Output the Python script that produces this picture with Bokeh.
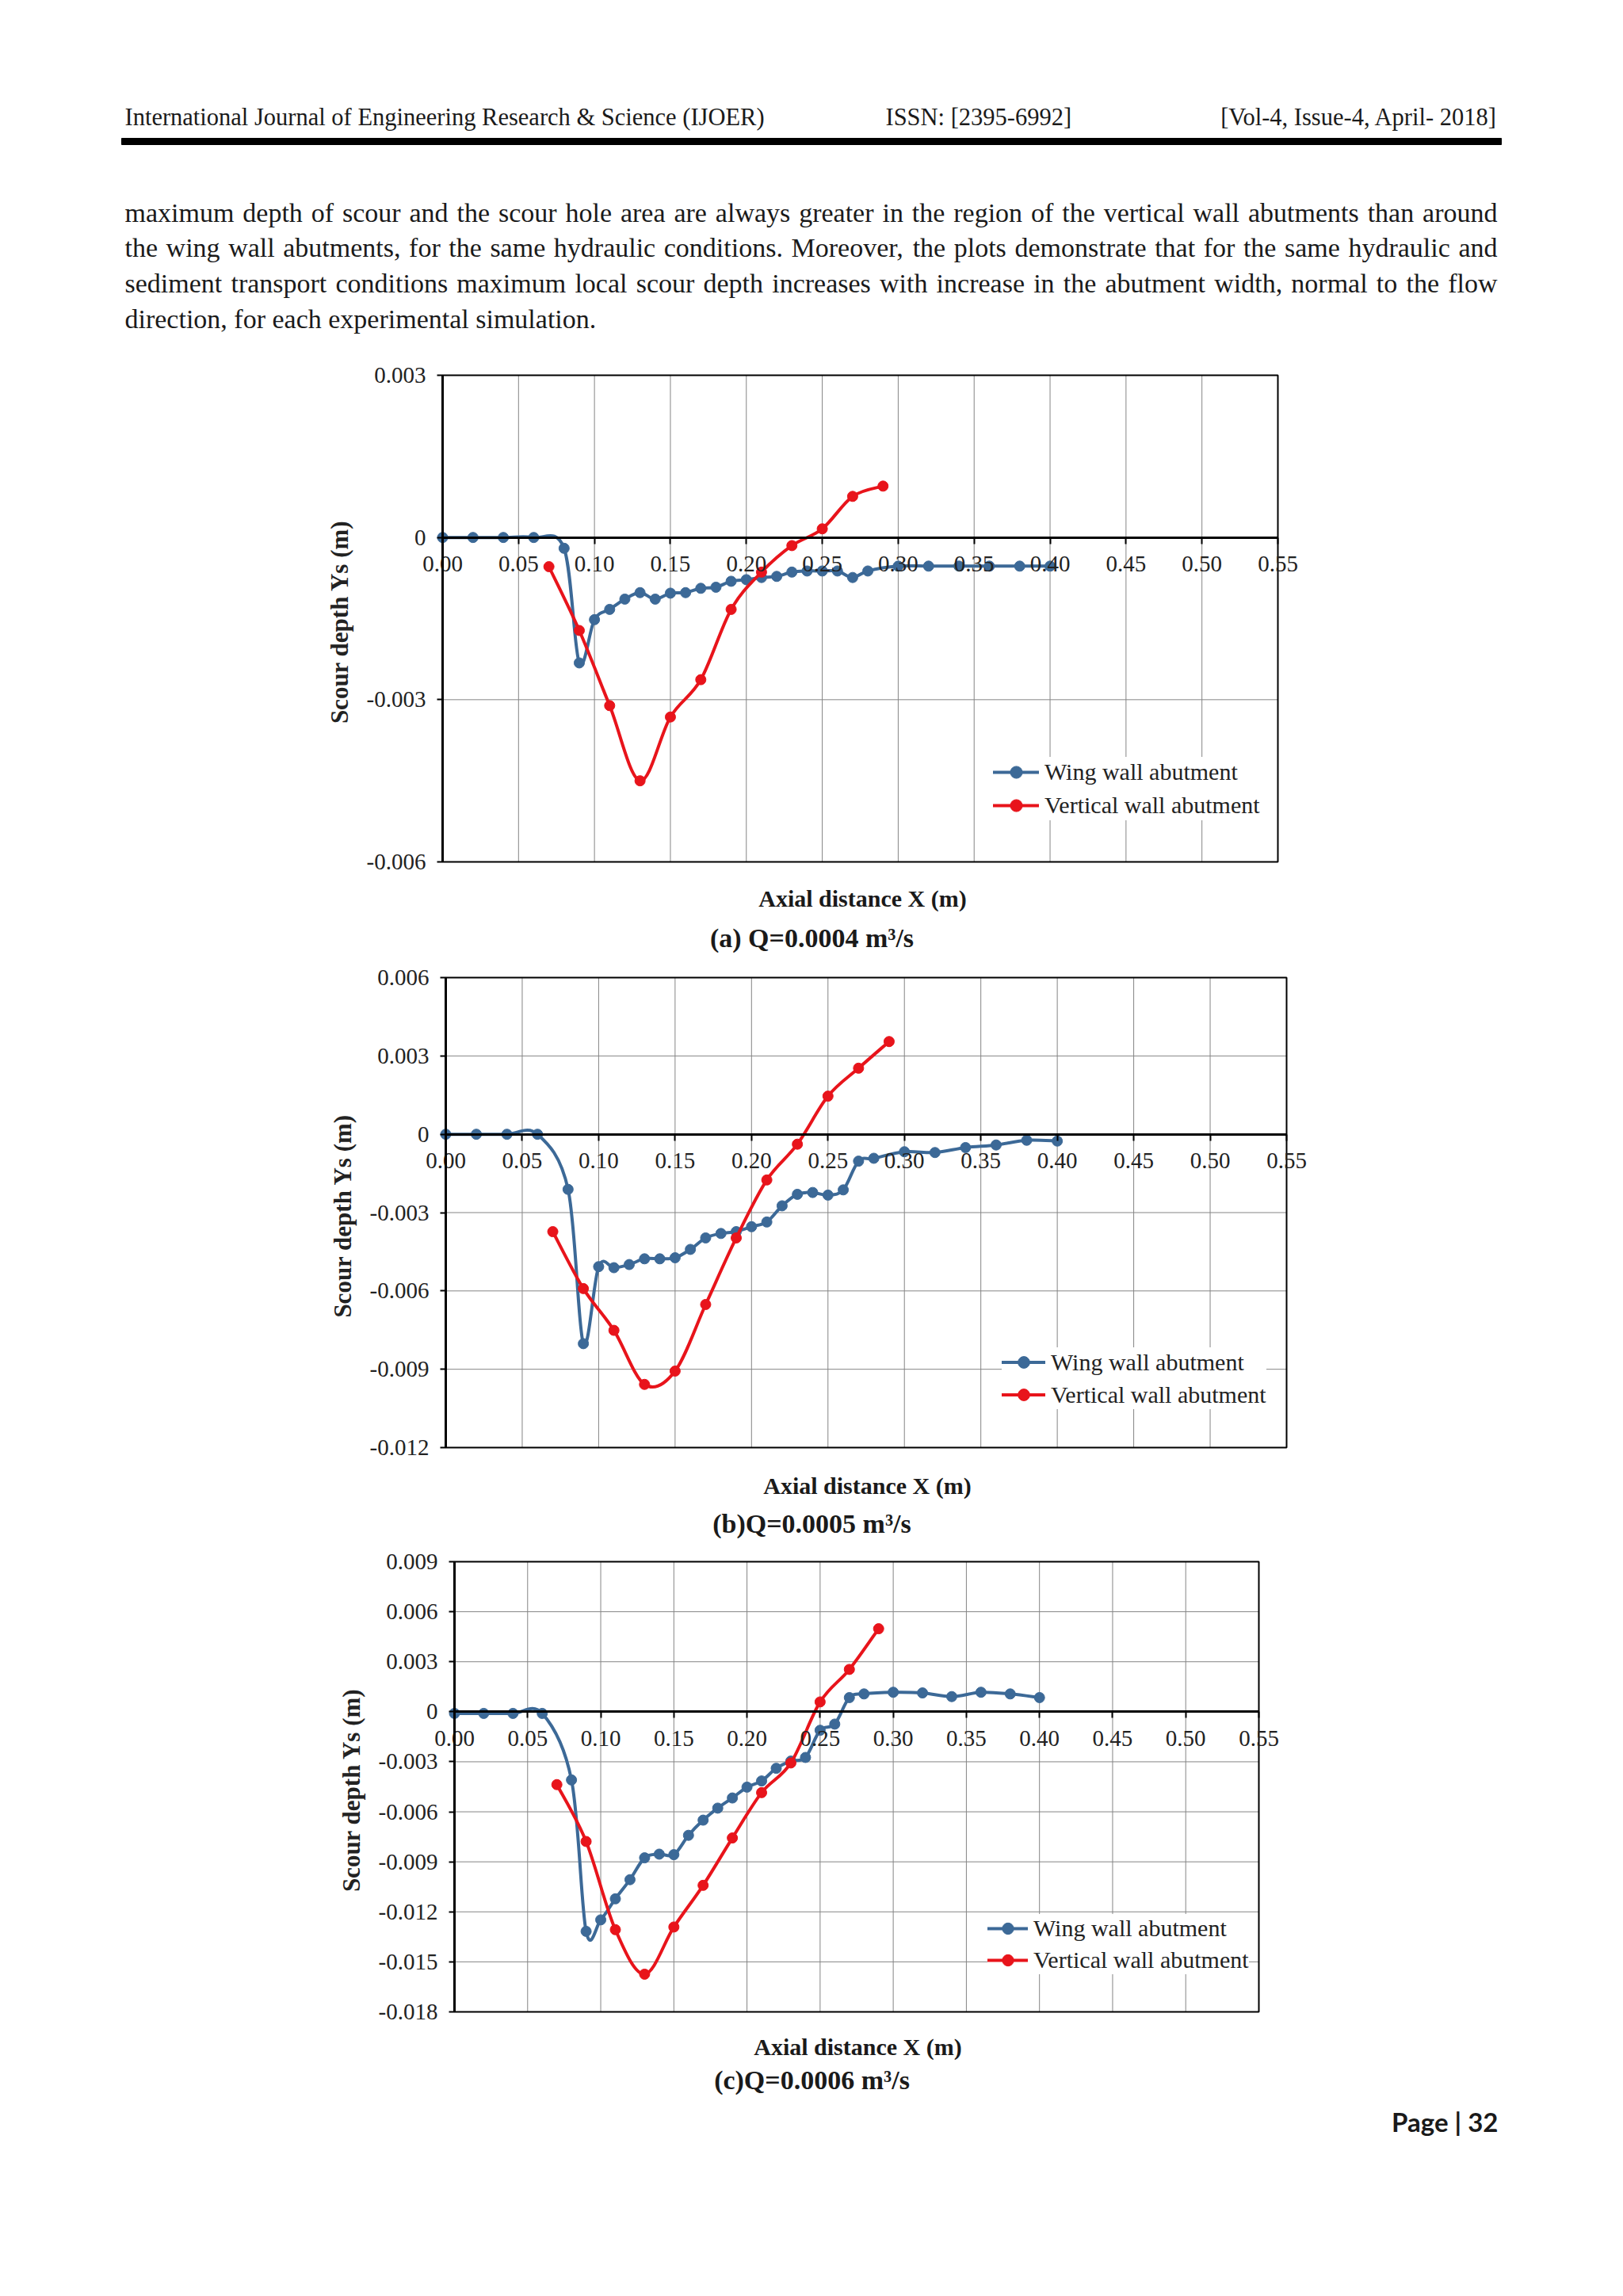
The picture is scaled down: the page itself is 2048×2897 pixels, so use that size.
from bokeh.plotting import figure
from bokeh.models import Range1d, FixedTicker, CustomJSTickFormatter, Legend, LegendItem
from bokeh.core.properties import value
from bokeh.embed import file_html
from bokeh.resources import INLINE

# ---------------- data ----------------
X_TICKS = [0.00, 0.05, 0.10, 0.15, 0.20, 0.25, 0.30, 0.35, 0.40, 0.45, 0.50, 0.55]

WING_X = [0.00, 0.02, 0.04, 0.06, 0.08, 0.09, 0.10, 0.11, 0.12, 0.13, 0.14, 0.15, 0.16,
          0.17, 0.18, 0.19, 0.20, 0.21, 0.22, 0.23, 0.24, 0.25, 0.26, 0.27, 0.28,
          0.30, 0.32, 0.34, 0.36, 0.38, 0.40]
VERT_X = [0.07, 0.09, 0.11, 0.13, 0.15, 0.17, 0.19, 0.21, 0.23, 0.25, 0.27, 0.29]

# (a) Q = 0.0004 m3/s
WING_A = [0.0, 0.0, 0.0, 0.0, -0.0002, -0.00232, -0.00152, -0.00133, -0.00114, -0.00102,
          -0.00114, -0.00103, -0.00102, -0.00094, -0.00092, -0.00081, -0.00078, -0.00074,
          -0.00072, -0.00064, -0.00062, -0.00062, -0.00062, -0.00074, -0.00062,
          -0.00053, -0.00053, -0.00053, -0.00053, -0.00053, -0.00053]
VERT_A = [-0.00054, -0.00172, -0.00311, -0.0045, -0.00332, -0.00263, -0.00133, -0.00064,
          -0.00015, 0.00016, 0.00076, 0.00095]
Y_TICKS_A = [-0.006, -0.003, 0.0, 0.003]

# (b) Q = 0.0005 m3/s
WING_B = [0.0, 0.0, 0.0, 0.0, -0.00211, -0.00802, -0.00507, -0.00511, -0.00499, -0.00477,
          -0.00477, -0.00473, -0.00441, -0.00397, -0.0038, -0.00373, -0.00354, -0.00336,
          -0.00274, -0.0023, -0.00223, -0.00233, -0.00213, -0.00103, -0.00092,
          -0.00067, -0.0007, -0.00051, -0.00041, -0.00023, -0.00026]
VERT_B = [-0.00373, -0.00591, -0.00751, -0.00958, -0.00907, -0.00652, -0.00397, -0.00175,
          -0.00038, 0.00146, 0.00253, 0.00355]
Y_TICKS_B = [-0.012, -0.009, -0.006, -0.003, 0.0, 0.003, 0.006]

# (c) Q = 0.0006 m3/s
WING_C = [-0.0001, -0.0001, -0.0001, -0.0001, -0.00409, -0.01317, -0.01248, -0.01122, -0.01007,
          -0.00876, -0.00854, -0.00857, -0.00741, -0.0065, -0.00578, -0.00517, -0.00452,
          -0.00415, -0.00339, -0.00296, -0.00274, -0.00111, -0.00074, 0.00085, 0.00107,
          0.00117, 0.00113, 0.00091, 0.00117, 0.00107, 0.00085]
VERT_C = [-0.00437, -0.00778, -0.01307, -0.01574, -0.01291, -0.01041, -0.00757, -0.00485,
          -0.00307, 0.00059, 0.00254, 0.00498]
Y_TICKS_C = [-0.018, -0.015, -0.012, -0.009, -0.006, -0.003, 0.0, 0.003, 0.006, 0.009]

SERIES_NAMES = ["Wing wall abutment", "Vertical wall abutment"]
CAPTIONS = ["(a) Q=0.0004 m\u00b3/s", "(b)Q=0.0005 m\u00b3/s", "(c)Q=0.0006 m\u00b3/s"]
X_LABEL = "Axial distance X (m)"
Y_LABEL = "Scour depth  Ys (m)"

HEADER = ["International Journal of Engineering Research & Science (IJOER)",
          "ISSN: [2395-6992]", "[Vol-4, Issue-4, April- 2018]"]
PARAGRAPH = [
    "maximum depth of scour and the scour hole area are always greater in the region of the vertical wall abutments than around",
    "the wing wall abutments, for the same hydraulic conditions. Moreover, the plots demonstrate that for the same hydraulic and",
    "sediment transport conditions maximum local scour depth increases with increase in the abutment width, normal to the flow",
    "direction, for each experimental simulation.",
]
FOOTER = "Page  |  32"

# ---------------- style ----------------
SERIF = "Liberation Serif"
BLUE = "#3C6997"
RED = "#E8141B"
GRID = "#858585"
W = 2040

# Times-Roman advance widths (per 1000 em) for justifying paragraph lines
TW = {' ': 250, 'a': 444, 'b': 500, 'c': 444, 'd': 500, 'e': 444, 'f': 333, 'g': 500, 'h': 500,
      'i': 278, 'j': 278, 'k': 500, 'l': 278, 'm': 778, 'n': 500, 'o': 500, 'p': 500, 'q': 500,
      'r': 333, 's': 389, 't': 278, 'u': 500, 'v': 500, 'w': 722, 'x': 500, 'y': 500, 'z': 444,
      ',': 250, '.': 250, 'M': 889, '-': 333}


def word_width(w, size):
    return sum(TW.get(ch, 500) for ch in w) * size / 1000.0


def text_fig(top, height):
    f = figure(width=W, height=height, x_range=Range1d(0, W),
               y_range=Range1d(top + height, top), x_axis_type=None, y_axis_type=None,
               min_border=0, toolbar_location=None, output_backend="svg",
               outline_line_color=None, background_fill_color="white",
               border_fill_color="white")
    return f


def put(f, x, y, txt, size, font=SERIF, style="normal", align="left",
        baseline="alphabetic", color="#1a1a1a"):
    f.text(x=[x], y=[y], text=[txt], text_font=value(font), text_font_size=value(size),
           text_font_style=style, text_align=align, text_baseline=baseline, text_color=color)


def smooth_line(p, xs, ys, color):
    """Excel-style smoothed line: cubic Bezier pieces through the data points."""
    n = len(xs)
    x0, y0, x1, y1, cx0, cy0, cx1, cy1 = [], [], [], [], [], [], [], []
    for i in range(n - 1):
        ip, inx = max(i - 1, 0), min(i + 2, n - 1)
        x0.append(xs[i]); y0.append(ys[i]); x1.append(xs[i + 1]); y1.append(ys[i + 1])
        cx0.append(xs[i] + (xs[i + 1] - xs[ip]) / 6.0)
        cy0.append(ys[i] + (ys[i + 1] - ys[ip]) / 6.0)
        cx1.append(xs[i + 1] - (xs[inx] - xs[i]) / 6.0)
        cy1.append(ys[i + 1] - (ys[inx] - ys[i]) / 6.0)
    return p.bezier(x0=x0, y0=y0, x1=x1, y1=y1, cx0=cx0, cy0=cy0, cx1=cx1, cy1=cy1,
                    line_color=color, line_width=4, line_cap="round")


def chart(wing_y, vert_y, y_ticks, fig_top, fig_bottom, fx0, fx1, fy0, fy1, leg):
    """fx0/fx1: page x of the plot-area left/right; fy0/fy1: page y of its top/bottom."""
    xmin, xmax = X_TICKS[0], X_TICKS[-1]
    ymin, ymax = y_ticks[0], y_ticks[-1]
    sx = (fx1 - fx0) / (xmax - xmin)
    sy = (fy1 - fy0) / (ymax - ymin)
    p = figure(width=W, height=fig_bottom - fig_top,
               x_range=Range1d(xmin - fx0 / sx, xmax + (W - fx1) / sx),
               y_range=Range1d(ymin - (fig_bottom - fy1) / sy, ymax + (fy0 - fig_top) / sy),
               min_border=0, toolbar_location=None, output_backend="svg",
               background_fill_color="white", border_fill_color="white")
    p.outline_line_color = None
    p.grid.visible = False

    # grid lines and plot-area border, limited to the plot area
    p.segment(x0=X_TICKS, y0=[ymin] * len(X_TICKS), x1=X_TICKS, y1=[ymax] * len(X_TICKS),
              line_color=GRID, line_width=1)
    p.segment(x0=[xmin] * len(y_ticks), y0=y_ticks, x1=[xmax] * len(y_ticks), y1=y_ticks,
              line_color=GRID, line_width=1)
    p.quad(left=[xmin], right=[xmax], bottom=[ymin], top=[ymax], fill_color=None,
           line_color="black", line_width=2)

    xa = p.xaxis[0]
    xa.fixed_location = 0
    xa.bounds = (xmin, xmax)
    xa.ticker = FixedTicker(ticks=X_TICKS, minor_ticks=[])
    xa.formatter = CustomJSTickFormatter(code="return tick.toFixed(2);")
    xa.axis_line_width = 3
    xa.axis_line_color = "black"
    xa.major_tick_out = 8
    xa.major_tick_in = 0
    xa.major_tick_line_width = 2
    xa.minor_tick_line_color = None
    xa.major_label_standoff = 16
    xa.major_label_text_font = SERIF
    xa.major_label_text_font_size = "29px"
    xa.major_label_text_color = "#222222"

    ya = p.yaxis[0]
    ya.fixed_location = 0
    ya.bounds = (ymin, ymax)
    ya.ticker = FixedTicker(ticks=y_ticks, minor_ticks=[])
    ya.formatter = CustomJSTickFormatter(code="return tick == 0 ? '0' : tick.toFixed(3);")
    ya.axis_line_width = 3
    ya.axis_line_color = "black"
    ya.major_tick_out = 7
    ya.major_tick_in = 0
    ya.major_tick_line_width = 2
    ya.minor_tick_line_color = None
    ya.major_label_standoff = 14
    ya.major_label_text_font = SERIF
    ya.major_label_text_font_size = "29px"
    ya.major_label_text_color = "#222222"
    ya.axis_label = Y_LABEL
    ya.axis_label_text_font = SERIF
    ya.axis_label_text_font_style = "bold"
    ya.axis_label_text_font_size = "31px"
    ya.axis_label_text_color = "#222222"
    ya.axis_label_standoff = 14

    l1 = smooth_line(p, WING_X, wing_y, BLUE)
    s1 = p.scatter(WING_X, wing_y, size=13, fill_color=BLUE, line_color=BLUE)
    l2 = smooth_line(p, VERT_X, vert_y, RED)
    s2 = p.scatter(VERT_X, vert_y, size=13, fill_color=RED, line_color=RED)

    lx, ly, gw, gh = leg
    legend = Legend(items=[LegendItem(label=SERIES_NAMES[0], renderers=[l1, s1]),
                           LegendItem(label=SERIES_NAMES[1], renderers=[l2, s2])],
                    location=(lx, ly), glyph_width=gw, glyph_height=gh, label_height=gh,
                    label_standoff=7, spacing=4, padding=4, margin=0,
                    label_text_font=SERIF, label_text_font_size="30px",
                    label_text_color="#222222",
                    border_line_color=None, background_fill_color="white",
                    background_fill_alpha=1.0)
    p.add_layout(legend)
    return p


# ---------------- page ----------------
top_f = text_fig(0, 445)
put(top_f, 157, 147, HEADER[0], "30.5px")
put(top_f, 1117, 147, HEADER[1], "30.5px")
put(top_f, 1889, 147, HEADER[2], "30.5px", align="right")
top_f.quad(left=[153], right=[1894], top=[174], bottom=[182], color="black")

PARA_SIZE = 34
LEFT, RIGHT = 157, 1889
baselines = [268, 312, 357, 402]
for i, line in enumerate(PARAGRAPH):
    if i < len(PARAGRAPH) - 1:
        words = line.split(" ")
        widths = [word_width(w, PARA_SIZE) for w in words]
        gap = max((RIGHT - LEFT - sum(widths)) / (len(words) - 1), PARA_SIZE * 0.2)
        xs, x = [], LEFT
        for w in widths:
            xs.append(x)
            x += w + gap
        top_f.text(x=xs, y=[baselines[i]] * len(words), text=words, text_font=value(SERIF),
                   text_font_size=value(f"{PARA_SIZE}px"), text_baseline="alphabetic",
                   text_align="left", text_color="#1a1a1a")
    else:
        put(top_f, LEFT, baselines[i], line, f"{PARA_SIZE}px")

# chart (a): page 445..1105, plot area x 558..1612, y 473..1087
ch_a = chart(WING_A, VERT_A, Y_TICKS_A, 445, 1105, 558, 1612, 473, 1087, (1253, 70, 58, 38))
mid_a = text_fig(1105, 110)
put(mid_a, 1088, 1133, X_LABEL, "30px", style="bold", align="center", baseline="middle")
put(mid_a, 1024, 1183, CAPTIONS[0], "34px", style="bold", align="center", baseline="middle")

# chart (b): page 1215..1845, plot area x 562..1623, y 1233..1826
ch_b = chart(WING_B, VERT_B, Y_TICKS_B, 1215, 1845, 562, 1623, 1233, 1826, (1264, 67, 55, 37))
mid_b = text_fig(1845, 110)
put(mid_b, 1094, 1874, X_LABEL, "30px", style="bold", align="center", baseline="middle")
put(mid_b, 1024, 1922, CAPTIONS[1], "34px", style="bold", align="center", baseline="middle")

# chart (c): page 1955..2555, plot area x 573..1588, y 1970..2538
ch_c = chart(WING_C, VERT_C, Y_TICKS_C, 1955, 2555, 573, 1588, 1970, 2538, (1246, 64, 51, 36))
bot = text_fig(2555, 335)
put(bot, 1082, 2582, X_LABEL, "30px", style="bold", align="center", baseline="middle")
put(bot, 1024, 2624, CAPTIONS[2], "34px", style="bold", align="center", baseline="middle")
put(bot, 1906, 2676, FOOTER, "33px", font="Lato", style="bold", align="right")

# separate roots (no frame alignment between figures)
roots = [top_f, ch_a, mid_a, ch_b, mid_b, ch_c, bot]
open("out.html", "w").write(file_html(roots, INLINE))
